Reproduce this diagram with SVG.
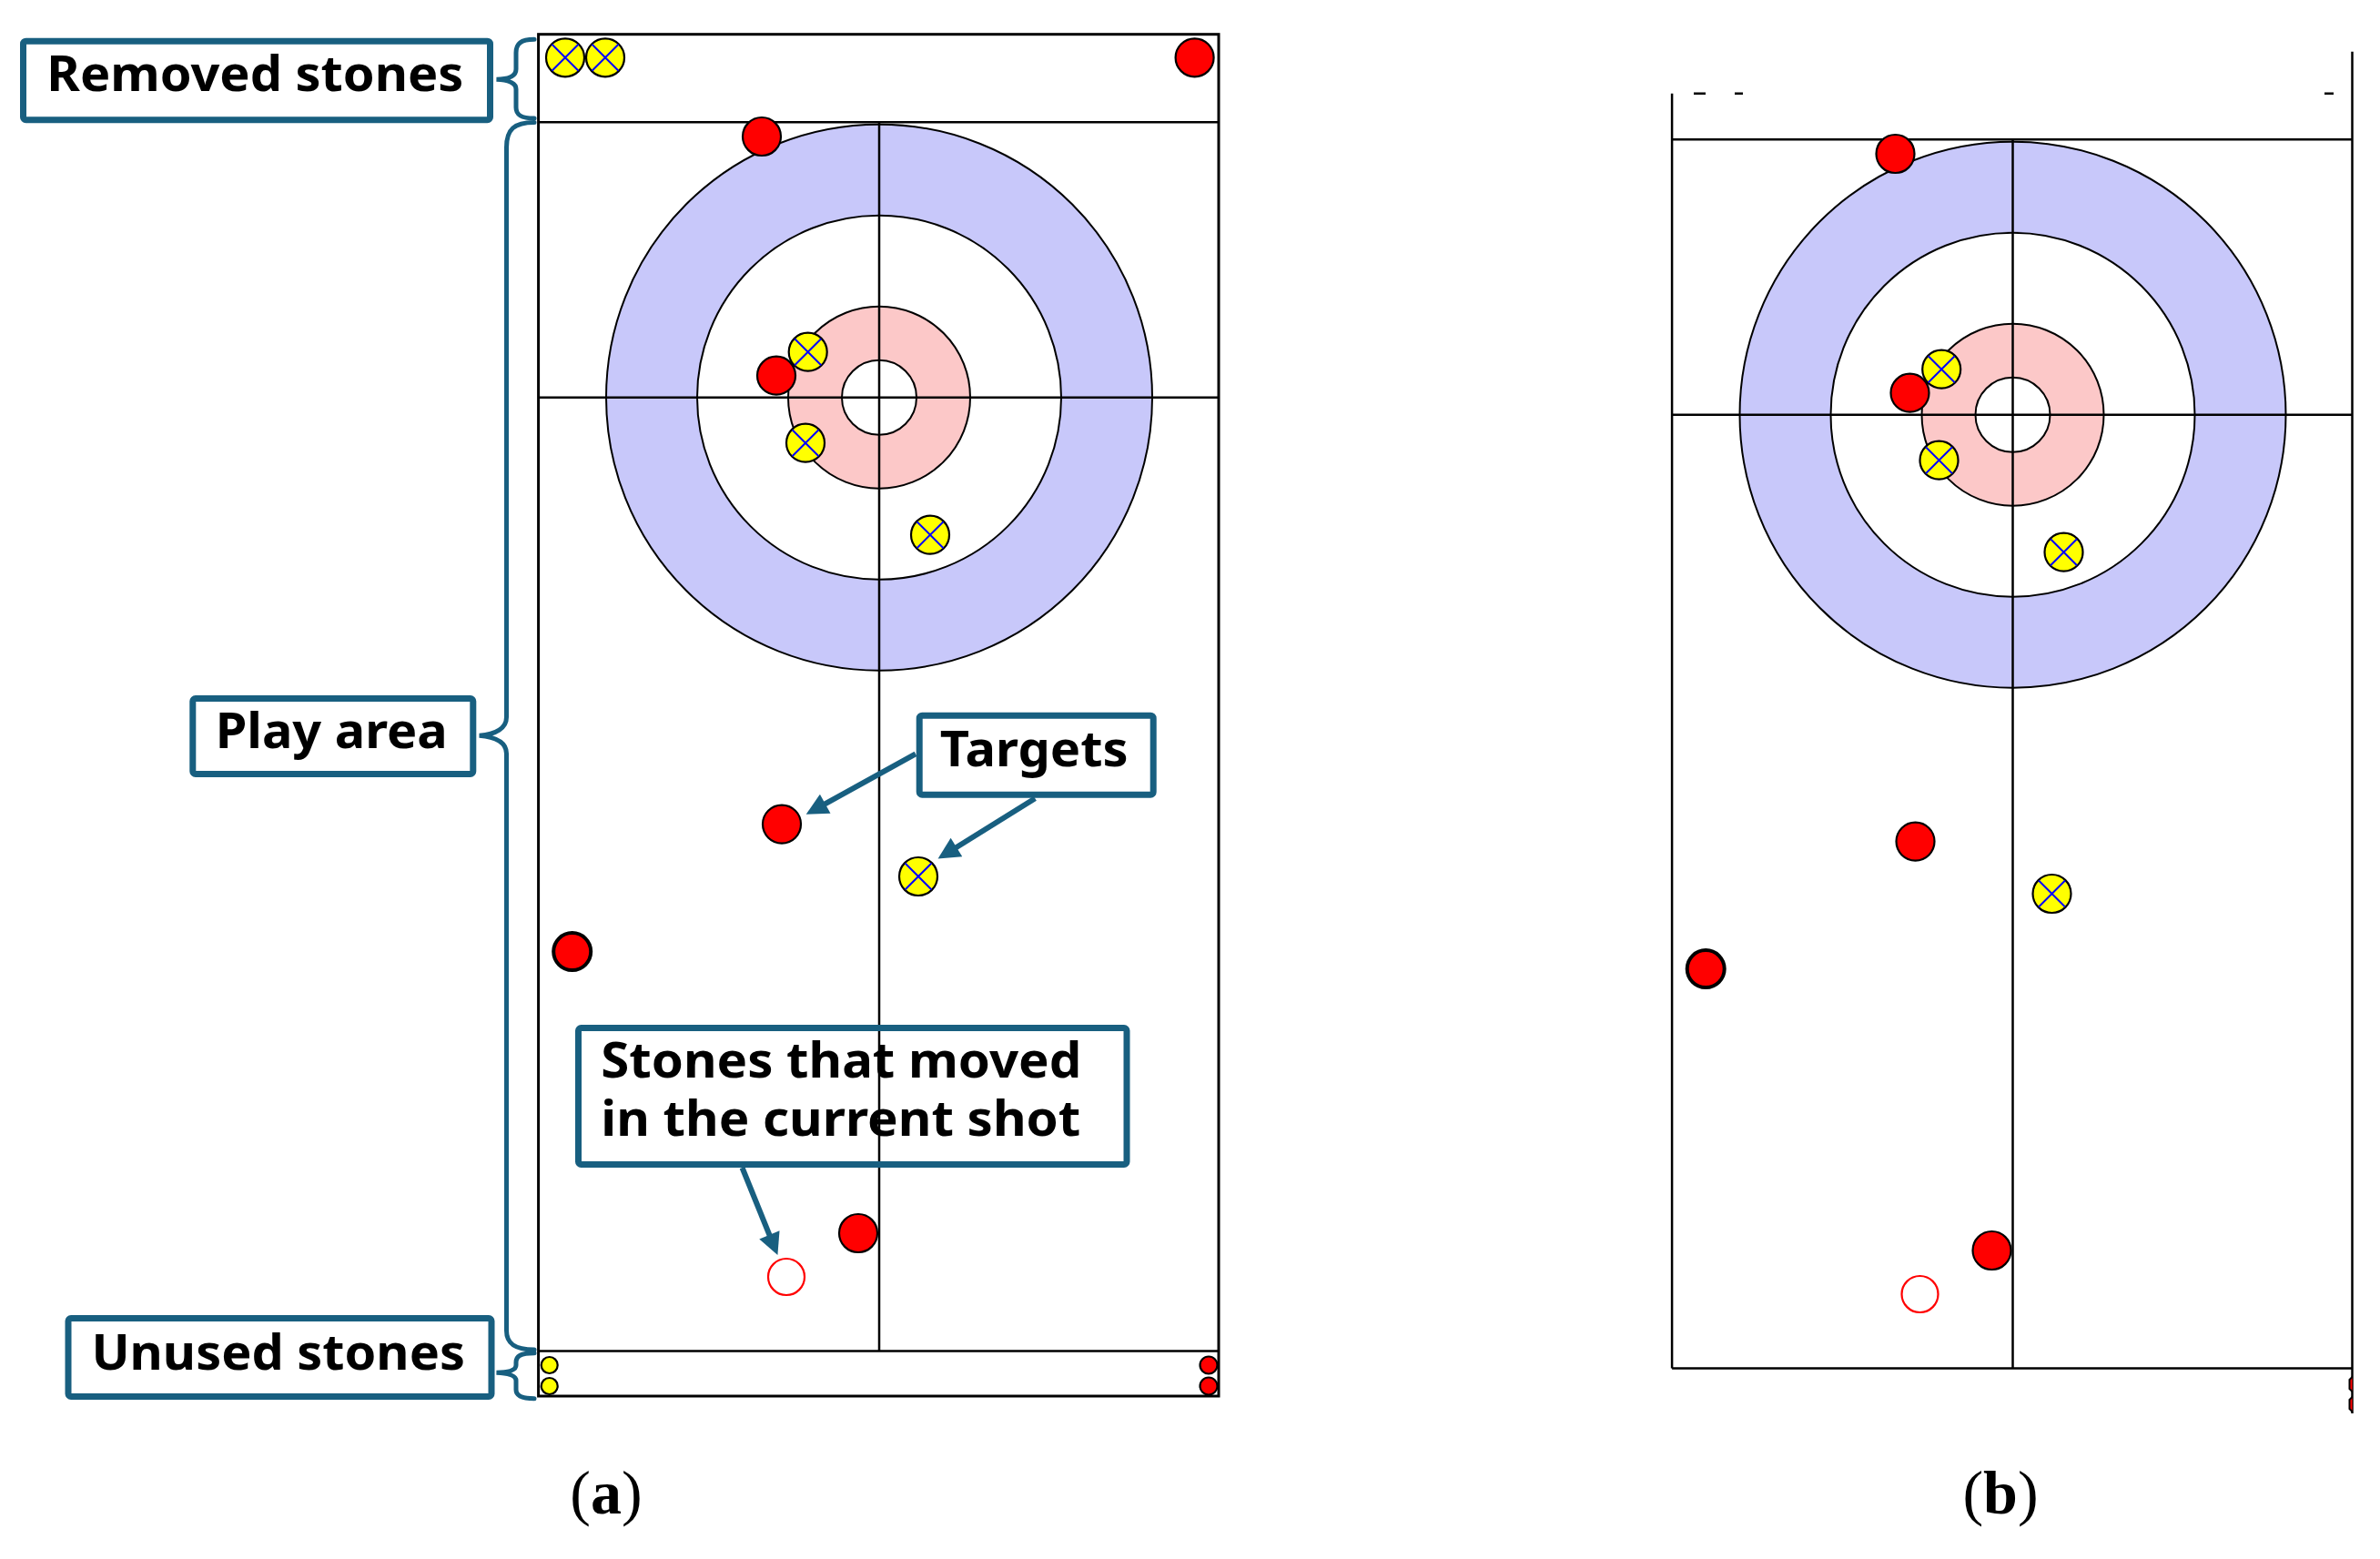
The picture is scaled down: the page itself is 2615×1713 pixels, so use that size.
<svg xmlns="http://www.w3.org/2000/svg" xmlns:xlink="http://www.w3.org/1999/xlink" width="2615" height="1713" viewBox="0 0 2615 1713">
<style>
.frame{fill:none;stroke:#000;stroke-width:3}
.ln{stroke:#000;stroke-width:2.5;fill:none}
.r12{fill:#c8c8fa;stroke:#000;stroke-width:2}
.r8{fill:#fff;stroke:#000;stroke-width:2}
.r4{fill:#fcc8c8;stroke:#000;stroke-width:2}
.btn{fill:#fff;stroke:#000;stroke-width:2}
.red{fill:#ff0000;stroke:#000;stroke-width:2.2}
.redthick{fill:#ff0000;stroke:#000;stroke-width:4}
.yel{fill:#ffff00;stroke:#000;stroke-width:2.2}
.x{stroke:#0000ff;stroke-width:2}
.hollow{fill:#fff;stroke:#ff0000;stroke-width:2.2}
.box{fill:none;stroke:#185f80;stroke-width:7}
.brace{fill:none;stroke:#185f80;stroke-width:5;stroke-linecap:round}
.arrow{stroke:#185f80;stroke-width:6;fill:none;marker-end:url(#ah)}
.lbl{font-family:"Noto Sans","DejaVu Sans",sans-serif;font-weight:bold;font-size:54px;fill:#000}
.cap{font-family:"Liberation Serif","Times New Roman",serif;font-size:68px;fill:#000}
</style>
<defs>
<marker id="ah" viewBox="0 0 10 10" refX="1" refY="5" markerWidth="4.5" markerHeight="4" markerUnits="strokeWidth" orient="auto">
<path d="M0,0 L10,5 L0,10 z" fill="#185f80"/>
</marker>
<g id="ys"><circle r="21" class="yel"/><path d="M-14.5,-14.5 L14.5,14.5 M14.5,-14.5 L-14.5,14.5" class="x"/></g>
<g id="rs"><circle r="21" class="red"/></g>
<g id="rst"><circle r="20.5" class="redthick"/></g>
<g id="hs"><circle r="20" class="hollow"/></g>
<g id="house">
<circle r="300" class="r12"/><circle r="200" class="r8"/><circle r="100" class="r4"/><circle r="41" class="btn"/>
</g>
</defs>
<rect width="2615" height="1713" fill="#fff"/>

<!-- Panel (a) -->
<g id="panel-a">
<use href="#house" x="966" y="436.7"/>
<rect x="591.6" y="37.7" width="747.4" height="1496.3" class="frame"/>
<path d="M591.6,134.3 H1339 M591.6,1484.5 H1339 M591.6,436.7 H1339 M966,134.3 V1484.5" class="ln"/>
<g id="a-removed-stones">
<use href="#ys" x="621" y="63.3"/>
<use href="#ys" x="665" y="63.3"/>
<use href="#rs" x="1312.6" y="63.3"/>
</g>
<g id="a-play-stones">
<use href="#rs" x="837" y="150"/>
<use href="#ys" x="887.7" y="386.7"/>
<use href="#rs" x="853" y="412.7"/>
<use href="#ys" x="885" y="486.7"/>
<use href="#ys" x="1022" y="587.7"/>
<use href="#rs" x="859" y="905.6"/>
<use href="#ys" x="1009" y="963"/>
<use href="#rst" x="628.7" y="1045.6"/>
<use href="#rs" x="943" y="1355"/>
<use href="#hs" x="864" y="1403"/>
</g>
<g id="a-unused-stones">
<circle cx="603.7" cy="1500" r="9" class="yel"/>
<circle cx="603.7" cy="1523" r="9" class="yel"/>
<circle cx="1328" cy="1500" r="9.5" class="red"/>
<circle cx="1328" cy="1523" r="9.5" class="red"/>
</g>
</g>

<!-- Panel (b) -->
<g id="panel-b">
<use href="#house" x="2211.5" y="455.7"/>
<path d="M1837.1,102.7 V1503.5 M2584.5,56.7 V1553 M1837.1,153.3 H2584.5 M1837.1,455.7 H2584.5 M1837.1,1503.5 H2584.5 M2211.5,153.3 V1503.5" class="ln"/>
<path d="M1861,102.7 H1874 M1906,102.7 H1915 M2554,102.7 H2564" class="ln"/>
<g id="b-play-stones">
<use href="#rs" x="2082.5" y="169"/>
<use href="#ys" x="2133.2" y="405.7"/>
<use href="#rs" x="2098.5" y="431.7"/>
<use href="#ys" x="2130.5" y="505.7"/>
<use href="#ys" x="2267.5" y="606.7"/>
<use href="#rs" x="2104.5" y="924.6"/>
<use href="#ys" x="2254.5" y="982"/>
<use href="#rst" x="1874.2" y="1064.6"/>
<use href="#rs" x="2188.5" y="1374"/>
<use href="#hs" x="2109.5" y="1422"/>
</g>
<g id="b-unused-slivers">
<path d="M2584.5,1513 L2581.5,1516 L2581.5,1526 L2584.5,1529" fill="#ff0000" stroke="#000" stroke-width="2"/>
<path d="M2584.5,1535 L2581.5,1538 L2581.5,1548 L2584.5,1551" fill="#ff0000" stroke="#000" stroke-width="2"/>
</g>
</g>

<!-- Connectors -->
<g id="connectors">
<path id="brace-removed" class="brace" d="M587,43.3 C572,43.3 567,48 567,58 L567,76 C567,83 560,87 545.5,87.3 C560,88 567,91 567,98 L567,118 C567,126 572,130 587,130"/>
<path id="brace-play" class="brace" d="M587,134.5 C565,134.5 556.5,142 556.5,162 L556.5,788 C556.5,800 545,807 526.7,808.3 C545,810 556.5,816 556.5,828 L556.5,1462 C556.5,1476 565,1483 587,1483"/>
<path id="brace-unused" class="brace" d="M587,1486.7 C572,1486.7 567,1490 567,1497 L567,1500 C567,1505 560,1508 545.5,1508.3 C560,1509 567,1512 567,1517 L567,1527 C567,1533 572,1536.7 587,1536.7"/>
<path id="arrow-target-red" class="arrow" d="M1006,828.3 L904.6,884.3"/>
<path id="arrow-target-yellow" class="arrow" d="M1137.3,877.3 L1048.9,932.2"/>
<path id="arrow-moved" class="arrow" d="M815.5,1283 L846.3,1359.1"/>
</g>

<!-- Label nodes -->
<g id="node-removed">
<rect x="25.5" y="45.2" width="513" height="86.5" rx="3" class="box"/>
<text x="51.3" y="100" class="lbl" textLength="458" lengthAdjust="spacingAndGlyphs">Removed stones</text>
</g>
<g id="node-play">
<rect x="211.8" y="767.5" width="308" height="83" rx="3" class="box"/>
<text x="236.7" y="821.7" class="lbl" textLength="255" lengthAdjust="spacingAndGlyphs">Play area</text>
</g>
<g id="node-unused">
<rect x="75" y="1448.5" width="465" height="86" rx="3" class="box"/>
<text x="100.4" y="1505" class="lbl" textLength="410.6" lengthAdjust="spacingAndGlyphs">Unused stones</text>
</g>
<g id="node-targets">
<rect x="1010.2" y="786.2" width="257" height="87" rx="3" class="box"/>
<text x="1032.7" y="841.7" class="lbl" textLength="207" lengthAdjust="spacingAndGlyphs">Targets</text>
</g>
<g id="node-moved">
<rect x="635.5" y="1129.5" width="602.5" height="150" rx="3" class="box"/>
<text class="lbl"><tspan x="660.3" y="1184" textLength="528" lengthAdjust="spacingAndGlyphs">Stones that moved</tspan><tspan x="660.3" y="1248.3" textLength="527" lengthAdjust="spacingAndGlyphs">in the current shot</tspan></text>
</g>

<g id="captions">
<text x="666" y="1663" class="cap" text-anchor="middle">(<tspan font-weight="bold">a</tspan>)</text>
<text x="2198" y="1663" class="cap" text-anchor="middle">(<tspan font-weight="bold">b</tspan>)</text>
</g>
</svg>
